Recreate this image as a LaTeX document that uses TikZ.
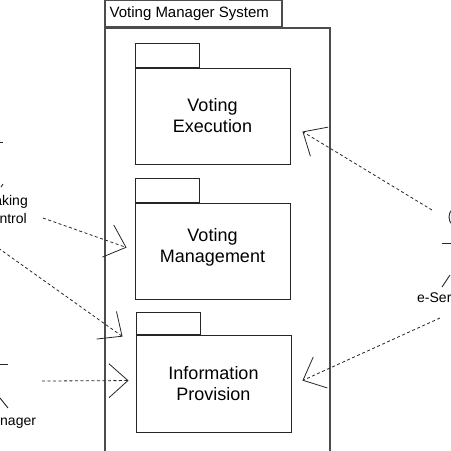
\documentclass[tikz,border=0pt]{standalone}
\usepackage{fontspec}
\setmainfont{Liberation Sans}
\usetikzlibrary{arrows.meta,positioning}
\begin{document}
\begin{tikzpicture}[x=1pt,y=-1pt]
        \tikzstyle{frame}=[rectangle,draw=black!70,line width=1.1pt,inner sep=0pt]
        \tikzstyle{pkg}=[rectangle,draw=black!85,line width=0.9pt,minimum width=155pt,minimum height=96pt,align=center,font=\fontsize{18}{21}\selectfont]
        \tikzstyle{tab}=[rectangle,draw=black!85,line width=0.9pt,minimum width=64pt,minimum height=24pt,inner sep=0pt]
        \tikzstyle{actor}=[font=\fontsize{14}{16}\selectfont,inner sep=0pt]
        \tikzstyle{dep}=[draw=black!85,line width=0.8pt,dash pattern=on 3pt off 2.5pt,-{Straight Barb[length=19pt,width=34pt]}]
        \tikzstyle{limb}=[draw=black!85,line width=0.9pt]
       \useasboundingbox (0,0) rectangle (451,451);
       % system frame
       \node [frame,minimum width=225pt,minimum height=424pt] (sys) at (217.5,240) {};
       \node [frame,minimum width=177pt,minimum height=26pt,anchor=south west,font=\fontsize{15}{17}\selectfont] (systab) at (sys.north west) {};
       \node [anchor=west,inner sep=0pt,font=\fontsize{15}{17}\selectfont] (systitle) at ([xshift=5pt]systab.west) {Voting Manager System};
       % packages
       \node [pkg] (exec) at (212.5,116) {Voting\\Execution};
       \node [tab,anchor=south west] (exectab) at (exec.north west) {};
       \node [pkg] (mgmt) at (212.5,251) {};
       \node [align=center,font=\fontsize{18}{21}\selectfont] (mgmtlabel) at ([yshift=4pt]mgmt.center) {Voting\\Management};
       \node [tab,anchor=south west] (mgmttab) at (mgmt.north west) {};
       \node [pkg,minimum height=97pt] (info) at (213.5,383.5) {Information\\Provision};
       \node [tab,minimum height=22pt,anchor=south west] (infotab) at (info.north west) {};
       % actors (cut at the edges)
       \draw [limb] (0,142) -- (3,142);
       \draw [limb] (1,187) -- (3,184);
       \node [actor,anchor=east] (ctrl1) at (28,202) {aking};
       \node [actor,anchor=east] (ctrl2) at (27,218) {ntrol};
       \draw [limb] (0,364) -- (8,364);
       \draw [limb] (0,398) -- (8,408);
       \node [actor,anchor=west] (mgr) at (0,423) {nager};
       \draw [limb] (460,217) circle (11);
       \draw [limb] (442,243) -- (451,243);
       \draw [limb] (442,287) -- (450,275);
       \node [actor,anchor=west] (eser) at (417,298) {e-Ser};
       % dependencies
       \coordinate (r1) at (432,210);
       \coordinate (r2) at (440,318);
       \coordinate (l1) at (43,218);
       \coordinate (l2) at (-6,245);
       \coordinate (l3) at (42,381);
       \coordinate (t1) at ([xshift=12pt,yshift=-64pt]exec.north east);
       \coordinate (t2) at ([xshift=11pt,yshift=-46pt]info.north east);
       \coordinate (t3) at ([xshift=-8pt,yshift=-45pt]mgmt.north west);
       \coordinate (t4) at ([xshift=-13pt,yshift=-2pt]info.north west);
       \coordinate (t5) at ([xshift=-7pt,yshift=-46pt]info.north west);
       \path [dep] (r1) -- (t1);
       \path [dep] (r2) -- (t2);
       \path [dep] (l1) -- (t3);
       \path [dep] (l2) -- (t4);
       \path [dep] (l3) -- (t5);
\end{tikzpicture}
\end{document}
